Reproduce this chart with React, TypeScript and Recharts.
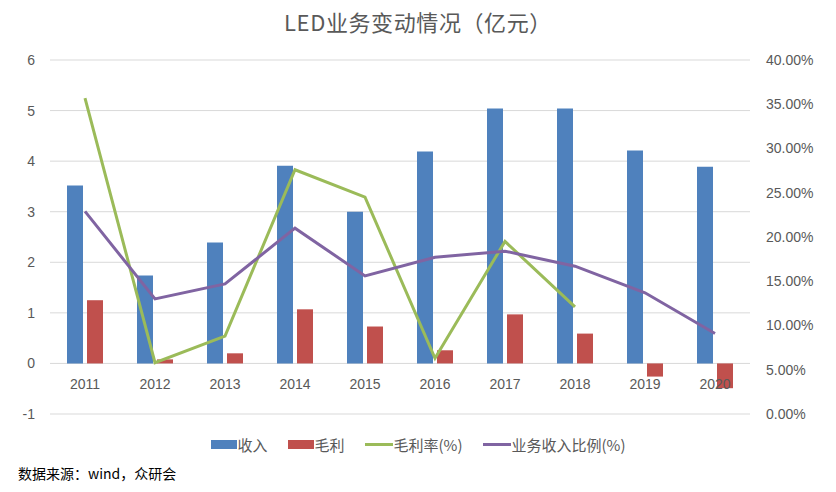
import { ComposedChart, Bar, Line, XAxis, YAxis, CartesianGrid } from 'recharts'

const years = ['2011', '2012', '2013', '2014', '2015', '2016', '2017', '2018', '2019', '2020']
const revenue = [3.52, 1.74, 2.39, 3.91, 3.0, 4.19, 5.04, 5.04, 4.21, 3.89]
const grossProfit = [1.25, 0.08, 0.2, 1.07, 0.73, 0.26, 0.97, 0.59, -0.26, -0.49]
const grossMargin: Array<number | null> = [35.7, 5.8, 8.8, 27.6, 24.5, 6.3, 19.5, 12.1, null, null]
const revenueShare = [22.9, 13.0, 14.7, 21.0, 15.6, 17.7, 18.4, 16.7, 13.7, 9.1]
const leftTicks = [-1, 0, 1, 2, 3, 4, 5, 6]
const rightTicks = [0, 5, 10, 15, 20, 25, 30, 35, 40]

const data = years.map((year, i) => ({
  year,
  revenue: revenue[i],
  grossProfit: grossProfit[i],
  grossMargin: grossMargin[i],
  revenueShare: revenueShare[i],
}))

const BLUE = '#4F81BD'
const RED = '#C0504D'
const GREEN = '#9BBB59'
const PURPLE = '#8064A2'
const TEXT = '#595959'
const FONT = '"Liberation Sans", Arial, sans-serif'
const CJK = '"Noto Sans CJK SC", sans-serif'

const legendItems = [
  { label: '收入', color: BLUE, kind: 'bar' },
  { label: '毛利', color: RED, kind: 'bar' },
  { label: '毛利率(%)', color: GREEN, kind: 'line' },
  { label: '业务收入比例(%)', color: PURPLE, kind: 'line' },
]

function YearTick(props: any) {
  const { x, y, payload } = props
  return (
    <text x={x} y={y - 33} textAnchor="middle" fill={TEXT} fontSize={14} fontFamily={FONT}>
      {payload.value}
    </text>
  )
}

export default function App() {
  return (
    <div style={{ position: 'absolute', left: 0, top: 0, width: 836, height: 492, background: '#fff', fontFamily: CJK }}>
      <div style={{ position: 'absolute', top: 5, left: 0, width: 836, textAlign: 'center', fontSize: 22, letterSpacing: 0.6, color: TEXT }}>
        LED业务变动情况（亿元）
      </div>
      <ComposedChart
        width={836}
        height={492}
        data={data}
        margin={{ top: 60, right: 0, left: 0, bottom: 48 }}
        barSize={16}
        barGap={4}
      >
        <CartesianGrid yAxisId="left" vertical={false} stroke="#D9D9D9" strokeWidth={1} />
        <XAxis
          dataKey="year"
          axisLine={false}
          tickLine={false}
          height={30}
          interval={0}
          tick={<YearTick />}
        />
        <YAxis
          yAxisId="left"
          domain={[-1, 6]}
          ticks={leftTicks}
          width={50}
          axisLine={false}
          tickLine={false}
          tickMargin={9}
          tick={{ fill: TEXT, fontSize: 14, fontFamily: FONT }}
        />
        <YAxis
          yAxisId="right"
          orientation="right"
          domain={[0, 40]}
          ticks={rightTicks}
          width={86}
          axisLine={false}
          tickLine={false}
          tickMargin={10}
          tick={{ fill: TEXT, fontSize: 14, fontFamily: FONT, textAnchor: 'start' }}
          tickFormatter={(v: number) => `${v.toFixed(2)}%`}
        />
        <Bar yAxisId="left" dataKey="revenue" fill={BLUE} isAnimationActive={false} />
        <Bar yAxisId="left" dataKey="grossProfit" fill={RED} isAnimationActive={false} />
        <Line
          yAxisId="right"
          type="linear"
          dataKey="grossMargin"
          stroke={GREEN}
          strokeWidth={3}
          dot={false}
          isAnimationActive={false}
        />
        <Line
          yAxisId="right"
          type="linear"
          dataKey="revenueShare"
          stroke={PURPLE}
          strokeWidth={3}
          dot={false}
          isAnimationActive={false}
        />
      </ComposedChart>
      <div style={{ position: 'absolute', top: 434, left: 0, width: 836, display: 'flex', justifyContent: 'center', fontSize: 15, color: TEXT }}>
        {legendItems.map((item) => (
          <div key={item.label} style={{ display: 'flex', alignItems: 'center', margin: '0 10px' }}>
            {item.kind === 'bar' ? (
              <span style={{ display: 'inline-block', width: 26, height: 9, background: item.color, marginRight: 1 }} />
            ) : (
              <span style={{ display: 'inline-block', width: 28, height: 3, background: item.color, marginRight: 1 }} />
            )}
            <span>{item.label}</span>
          </div>
        ))}
      </div>
      <div style={{ position: 'absolute', top: 463, left: 18, fontSize: 14, color: '#000' }}>
        数据来源：wind，众研会
      </div>
    </div>
  )
}
